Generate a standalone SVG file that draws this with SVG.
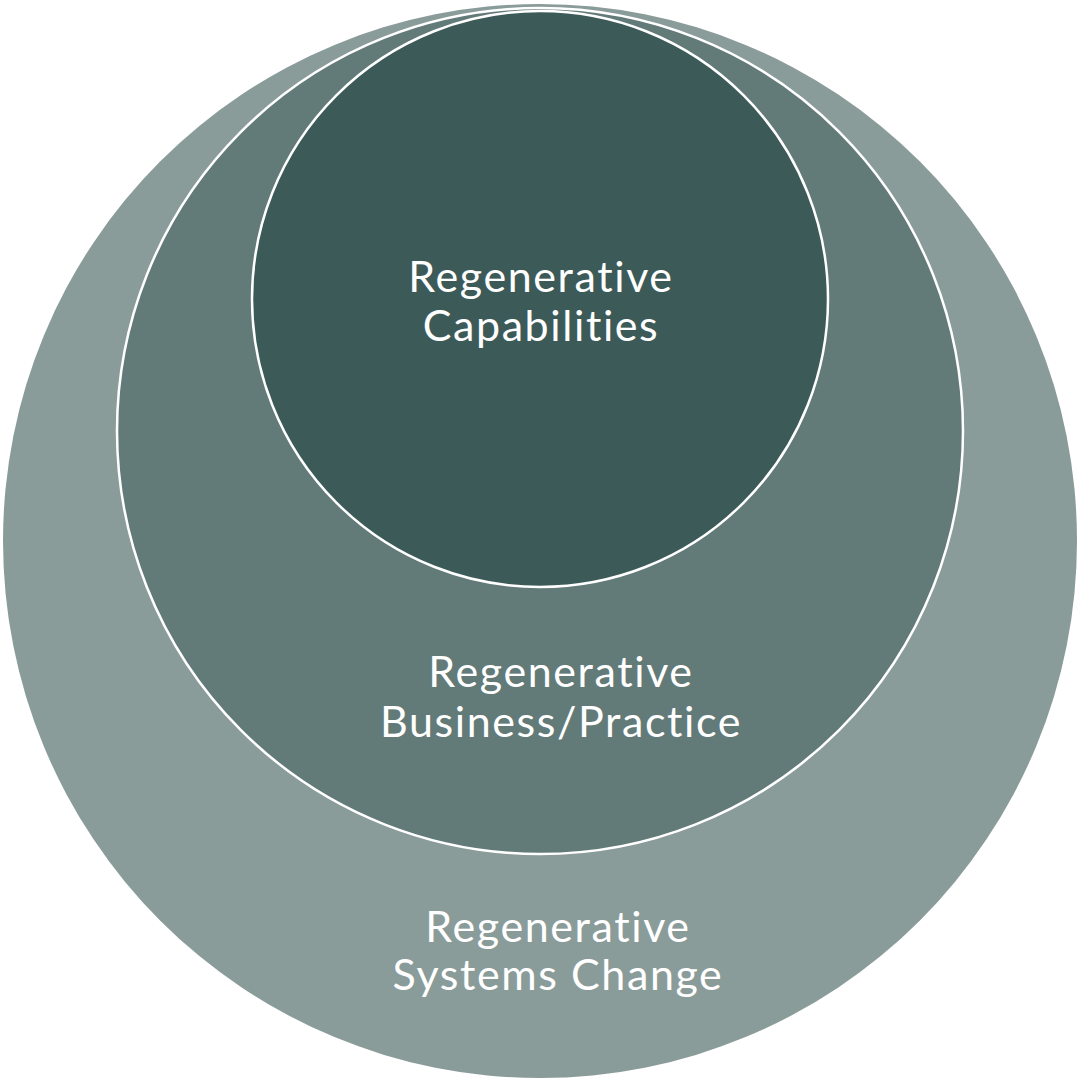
<svg xmlns="http://www.w3.org/2000/svg" width="1080" height="1080" viewBox="0 0 1080 1080">
<style>
.lbl{font-family:Lato,"Open Sans","Liberation Sans",sans-serif;font-size:43px;fill:#ffffff;text-anchor:middle;letter-spacing:1.6px;font-variant-ligatures:none}
.ring{stroke:#ffffff;stroke-width:2.5}
</style>
<rect width="1080" height="1080" fill="#ffffff"/>
<g id="systems-change">
<circle cx="540" cy="541" r="537" fill="#8a9c9a"/>
<text class="lbl" x="558" y="942">Regenerative</text>
<text class="lbl" x="558" y="990">Systems Change</text>
</g>
<g id="business-practice">
<circle class="ring" cx="540" cy="431" r="423" fill="#627a78"/>
<text class="lbl" x="561" y="687">Regenerative</text>
<text class="lbl" x="561" y="737">Business/Practice</text>
</g>
<g id="capabilities">
<circle class="ring" cx="540" cy="299" r="288" fill="#3c5a58"/>
<text class="lbl" x="541" y="292">Regenerative</text>
<text class="lbl" x="541" y="341">Capabilities</text>
</g>
<g id="connectors"></g>
</svg>
